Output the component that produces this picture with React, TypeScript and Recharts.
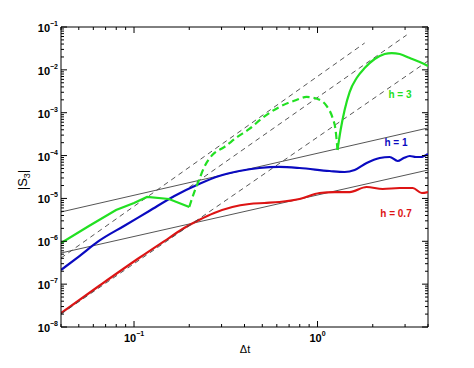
import { ComposedChart, Line, XAxis, YAxis, ReferenceLine } from "recharts"

// time lags (Δt) and |S3| values
const blueT = [0.04, 0.05, 0.0644, 0.0882, 0.121, 0.166, 0.226, 0.291, 0.375, 0.482, 0.62, 0.798, 1.164, 1.405, 1.593, 1.852, 2.183, 2.472, 2.735, 2.95, 3.184, 3.433, 3.656, 4]
const blueS = [2.14e-7, 4.4e-7, 1.02e-6, 2.28e-6, 5.09e-6, 1.14e-5, 2.17e-5, 3.34e-5, 4.36e-5, 5.13e-5, 5.42e-5, 5.13e-5, 4.36e-5, 4.14e-5, 4.6e-5, 6.71e-5, 8.77e-5, 9.27e-5, 7.47e-5, 8.77e-5, 9.77e-5, 9.27e-5, 9.27e-5, 1.09e-4]

const redT = [0.04, 0.0644, 0.1065, 0.155, 0.1875, 0.226, 0.2735, 0.3434, 0.425, 0.513, 0.62, 0.798, 1.026, 1.239, 1.496, 1.852, 2.264, 2.805, 3.304, 3.698, 4]
const redS = [2.12e-8, 9.06e-8, 4.07e-7, 1.19e-6, 2.04e-6, 3.14e-6, 4.57e-6, 6.31e-6, 7.41e-6, 7.83e-6, 8.26e-6, 9.7e-6, 1.34e-5, 1.41e-5, 1.41e-5, 1.85e-5, 1.66e-5, 1.75e-5, 1.75e-5, 1.34e-5, 1.41e-5]

// h = 3: solid (positive), dashed (negative), solid again after the cusp
const greenAT = [0.04, 0.0568, 0.0798, 0.1, 0.1178, 0.155, 0.2]
const greenAS = [9.12e-7, 2.28e-6, 5.37e-6, 7.83e-6, 1.08e-5, 9.7e-6, 6.3e-6]
const greenDT = [0.2, 0.213, 0.226, 0.2415, 0.267, 0.31, 0.366, 0.425, 0.5, 0.62, 0.767, 0.871, 1.0, 1.12, 1.208, 1.254, 1.285]
const greenDS = [6.3e-6, 1.41e-5, 2.69e-5, 5.42e-5, 1.03e-4, 1.58e-4, 2.72e-4, 4.17e-4, 7.53e-4, 1.36e-3, 1.98e-3, 2.33e-3, 2.09e-3, 1.44e-3, 7.53e-4, 3.95e-4, 1.35e-4]
const greenBT = [1.285, 1.336, 1.405, 1.496, 1.634, 1.806, 2.048, 2.322, 2.536, 2.805, 3.184, 3.606, 4]
const greenBS = [1.35e-4, 3.95e-4, 1.16e-3, 3.04e-3, 6.45e-3, 1.1e-2, 1.79e-2, 2.34e-2, 2.47e-2, 2.34e-2, 1.89e-2, 1.52e-2, 1.23e-2]

// guide lines (slope 1 solid, slope 3 dashed)
const guideUpperT = [0.04, 4]
const guideUpperS = [4.83e-6, 4.4e-4]
const guideLowerT = [0.04, 4]
const guideLowerS = [5.33e-7, 4.6e-5]
const dash1T = [0.04, 1.807]
const dash1S = [4.07e-7, 4.23e-2]
const dash2T = [0.2, 3.06]
const dash2S = [1.82e-5, 6.5e-2]
const dash3T = [0.04, 4]
const dash3S = [2.01e-8, 1.61e-2]

const xTicks = [0.04, 0.05, 0.06, 0.07, 0.08, 0.09, 0.1, 0.2, 0.3, 0.4, 0.5, 0.6, 0.7, 0.8, 0.9, 1, 2, 3, 4]
const yTicks: number[] = []
for (let d = -8; d <= -2; d++) for (let k = 1; k <= 9; k++) yTicks.push(Number((k * Math.pow(10, d)).toPrecision(3)))
yTicks.push(0.1)

const zip = (t: number[], s: number[]) => t.map((v, i) => ({ t: v, s: s[i] }))

const W = 466
const H = 360
const PLOT_LEFT = 53
const PLOT_RIGHT = 420
const PLOT_TOP = 19
const PLOT_BOTTOM = 319
const FONT = "'Liberation Sans', Arial, Helvetica, sans-serif"

const isMajor = (v: number) => Math.abs(Math.log10(v) - Math.round(Math.log10(v))) < 1e-6
const expText = (v: number) => {
  const e = Math.round(Math.log10(v))
  return e < 0 ? "\u2212" + -e : String(e)
}

function XTick(props: any) {
  const { x, payload } = props
  const v = payload.value
  const major = isMajor(v)
  const len = major ? 6 : 3
  return (
    <g>
      <line x1={x} x2={x} y1={PLOT_BOTTOM} y2={PLOT_BOTTOM - len} stroke="#000" />
      <line x1={x} x2={x} y1={PLOT_TOP} y2={PLOT_TOP + len} stroke="#000" />
      {major && (
        <text x={x} y={PLOT_BOTTOM + 15} textAnchor="middle" fontFamily={FONT} fontWeight="bold" fontSize={11} fill="#000">
          10<tspan dy={-6} fontSize={7}>{expText(v)}</tspan>
        </text>
      )}
    </g>
  )
}

function YTick(props: any) {
  const { y, payload } = props
  const v = payload.value
  const major = isMajor(v)
  const len = major ? 6 : 3
  return (
    <g>
      <line x1={PLOT_LEFT} x2={PLOT_LEFT + len} y1={y} y2={y} stroke="#000" />
      <line x1={PLOT_RIGHT} x2={PLOT_RIGHT - len} y1={y} y2={y} stroke="#000" />
      {major && (
        <text x={PLOT_LEFT - 3} y={y + 5} textAnchor="end" fontFamily={FONT} fontWeight="bold" fontSize={11} fill="#000">
          10<tspan dy={-6} fontSize={7}>{expText(v)}</tspan>
        </text>
      )}
    </g>
  )
}

const GREEN = "#22e022"
const BLUE = "#0a0ac0"
const RED = "#dd1414"

export default function App() {
  return (
    <div style={{ position: "relative", width: W, height: H }}>
      <ComposedChart width={W} height={H} margin={{ top: PLOT_TOP, right: W - PLOT_RIGHT, bottom: 0, left: 0 }}>
        <XAxis
          dataKey="t"
          type="number"
          scale="log"
          domain={[0.04, 4]}
          allowDataOverflow
          ticks={xTicks}
          interval={0}
          height={H - PLOT_BOTTOM}
          tickLine={false}
          axisLine={{ stroke: "#000" }}
          tick={(p: any) => <XTick {...p} />}
        />
        <YAxis
          type="number"
          scale="log"
          domain={[1e-8, 0.1]}
          allowDataOverflow
          ticks={yTicks}
          interval={0}
          width={PLOT_LEFT}
          tickLine={false}
          axisLine={{ stroke: "#000" }}
          tick={(p: any) => <YTick {...p} />}
        />
        <ReferenceLine y={0.1} stroke="#000" />
        <ReferenceLine x={4} stroke="#000" />

        <Line data={zip(guideUpperT, guideUpperS)} dataKey="s" type="linear" stroke="#555" strokeWidth={1} dot={false} isAnimationActive={false} />
        <Line data={zip(guideLowerT, guideLowerS)} dataKey="s" type="linear" stroke="#555" strokeWidth={1} dot={false} isAnimationActive={false} />
        <Line data={zip(dash1T, dash1S)} dataKey="s" type="linear" stroke="#444" strokeWidth={0.9} strokeDasharray="5 4" dot={false} isAnimationActive={false} />
        <Line data={zip(dash2T, dash2S)} dataKey="s" type="linear" stroke="#444" strokeWidth={0.9} strokeDasharray="5 4" dot={false} isAnimationActive={false} />

        <Line data={zip(redT, redS)} dataKey="s" type="monotone" stroke={RED} strokeWidth={2.2} dot={false} isAnimationActive={false} />
        <Line data={zip(dash3T, dash3S)} dataKey="s" type="linear" stroke="#444" strokeWidth={0.9} strokeDasharray="5 4" dot={false} isAnimationActive={false} />
        <Line data={zip(blueT, blueS)} dataKey="s" type="monotone" stroke={BLUE} strokeWidth={2.2} dot={false} isAnimationActive={false} />
        <Line data={zip(greenAT, greenAS)} dataKey="s" type="linear" stroke={GREEN} strokeWidth={2.2} dot={false} isAnimationActive={false} />
        <Line data={zip(greenDT, greenDS)} dataKey="s" type="monotone" stroke={GREEN} strokeWidth={2.2} strokeDasharray="7 4" dot={false} isAnimationActive={false} />
        <Line data={zip(greenBT, greenBS)} dataKey="s" type="monotone" stroke={GREEN} strokeWidth={2.2} dot={false} isAnimationActive={false} />
      </ComposedChart>
      <svg width={W} height={H} style={{ position: "absolute", left: 0, top: 0, pointerEvents: "none" }}>
        <text x={237} y={345} textAnchor="middle" fontFamily={FONT} fontSize={11} fill="#000">Δt</text>
        <text x={19} y={172} textAnchor="middle" fontFamily={FONT} fontSize={13} fill="#000" transform="rotate(-90 19 172)">
          |S<tspan dy={3} fontSize={9}>3</tspan><tspan dy={-3}>|</tspan>
        </text>
        <text x={392} y={90} textAnchor="middle" fontFamily={FONT} fontWeight="bold" fontSize={10} fill={GREEN}>h = 3</text>
        <text x={388} y={138} textAnchor="middle" fontFamily={FONT} fontWeight="bold" fontSize={10} fill={BLUE}>h = 1</text>
        <text x={388} y={209} textAnchor="middle" fontFamily={FONT} fontWeight="bold" fontSize={10} fill={RED}>h = 0.7</text>
      </svg>
    </div>
  )
}
